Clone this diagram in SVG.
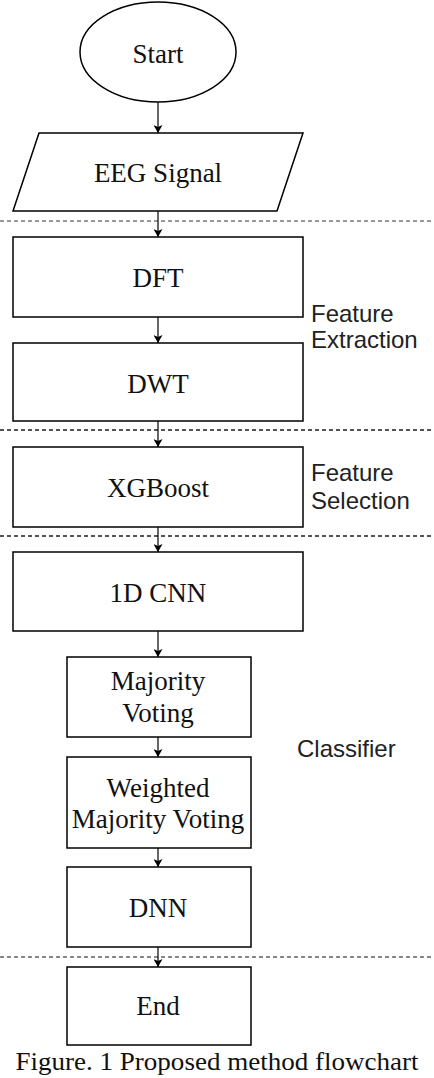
<svg xmlns="http://www.w3.org/2000/svg" width="434" height="1078" viewBox="0 0 434 1078">
<style>
.box{fill:#fff;stroke:#000;stroke-width:1.5}
.t{font-family:"Liberation Serif","Times New Roman",serif;font-size:27px;fill:#111;text-anchor:middle}
.lab{font-family:"Liberation Sans",Arial,sans-serif;font-size:24px;fill:#222}
.arr{stroke:#000;stroke-width:1.2;fill:none;marker-end:url(#ah)}
.dl{stroke-width:2;stroke-dasharray:4 3;fill:none}
</style>
<defs>
<marker id="ah" markerUnits="userSpaceOnUse" markerWidth="8" markerHeight="9" refX="8" refY="4.5" orient="auto" viewBox="0 0 8 9">
<path d="M0,0 L8,4.5 L0,9 L2,4.5 z" fill="#000"/>
</marker>
</defs>
<rect width="434" height="1078" fill="#fff"/>
<g id="separators">
<line class="dl" x1="0" y1="221" x2="434" y2="221" stroke="#9a9a9a"/>
<line class="dl" x1="0" y1="430" x2="434" y2="430" stroke="#555"/>
<line class="dl" x1="0" y1="536" x2="434" y2="536" stroke="#555"/>
<line class="dl" x1="0" y1="957" x2="434" y2="957" stroke="#888"/>
</g>
<g id="connectors">
<line class="arr" x1="158" y1="102" x2="158" y2="133"/>
<line class="arr" x1="158" y1="211" x2="158" y2="237"/>
<line class="arr" x1="158" y1="317" x2="158" y2="343"/>
<line class="arr" x1="158" y1="421" x2="158" y2="447"/>
<line class="arr" x1="158" y1="527" x2="158" y2="552"/>
<line class="arr" x1="158" y1="631" x2="158" y2="657"/>
<line class="arr" x1="158" y1="737" x2="158" y2="757"/>
<line class="arr" x1="158" y1="848" x2="158" y2="867"/>
<line class="arr" x1="158" y1="947" x2="158" y2="967"/>
</g>
<g id="start">
<ellipse class="box" cx="158" cy="52" rx="78" ry="50"/>
<text class="t" x="158" y="63">Start</text>
</g>
<g id="eeg">
<polygon class="box" points="39,133 303,133 277,211 13,211"/>
<text class="t" x="158" y="182" font-size="29">EEG Signal</text>
</g>
<g id="dft">
<rect class="box" x="13" y="237" width="290" height="80"/>
<text class="t" x="158" y="287">DFT</text>
</g>
<g id="dwt">
<rect class="box" x="13" y="343" width="290" height="78"/>
<text class="t" x="158" y="393">DWT</text>
</g>
<g id="xgboost">
<rect class="box" x="13" y="447" width="290" height="80"/>
<text class="t" x="158" y="497">XGBoost</text>
</g>
<g id="cnn">
<rect class="box" x="13" y="552" width="290" height="79" stroke-width="1.8"/>
<text class="t" x="158" y="602">1D CNN</text>
</g>
<g id="majority">
<rect class="box" x="67" y="657" width="184" height="80"/>
<text class="t" x="158" y="690">Majority</text>
<text class="t" x="158" y="722">Voting</text>
</g>
<g id="weighted">
<rect class="box" x="67" y="757" width="184" height="91"/>
<text class="t" x="158" y="797">Weighted</text>
<text class="t" x="158" y="828">Majority Voting</text>
</g>
<g id="dnn">
<rect class="box" x="67" y="867" width="184" height="80" stroke-width="2"/>
<text class="t" x="158" y="917">DNN</text>
</g>
<g id="end">
<rect class="box" x="67" y="967" width="184" height="78"/>
<text class="t" x="158" y="1015">End</text>
</g>
<g id="labels">
<text class="lab" x="311" y="322">Feature</text>
<text class="lab" x="311" y="348">Extraction</text>
<text class="lab" x="311" y="481">Feature</text>
<text class="lab" x="311" y="509">Selection</text>
<text class="lab" x="297" y="757">Classifier</text>
</g>
<g id="caption">
<text x="217" y="1070" font-family="Liberation Serif,'Times New Roman',serif" font-size="25" fill="#111" text-anchor="middle" textLength="403" lengthAdjust="spacingAndGlyphs">Figure. 1 Proposed method flowchart</text>
</g>
</svg>
